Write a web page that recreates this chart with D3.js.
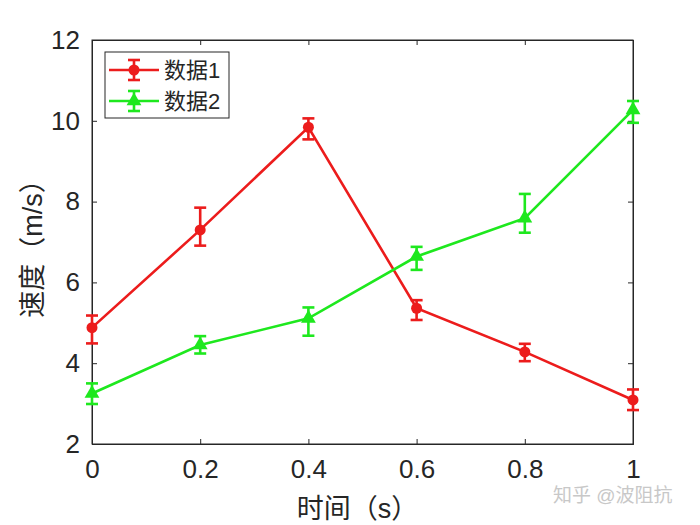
<!DOCTYPE html>
<html>
<head>
<meta charset="utf-8">
<script src="https://cdn.jsdelivr.net/npm/d3@7"></script>
<style>
  body { margin: 0; background: #fff; }
  text { font-family: Arial, "Liberation Sans", "Noto Sans CJK SC", sans-serif; }
</style>
</head>
<body>
<svg id="chart" width="700" height="525"></svg>
<script>
const times = [0, 0.2, 0.4, 0.6, 0.8, 1];

const speed1 = [4.88, 7.30, 9.84, 5.36, 4.28, 3.09];
const speed1Low = [4.49, 6.91, 9.54, 5.07, 4.05, 2.84];
const speed1High = [5.18, 7.85, 10.06, 5.56, 4.48, 3.35];

const speed2 = [3.25, 4.45, 5.11, 6.64, 7.59, 10.27];
const speed2Low = [2.99, 4.24, 4.68, 6.31, 7.23, 9.95];
const speed2High = [3.50, 4.67, 5.38, 6.88, 8.19, 10.49];

const xTicks = [0, 0.2, 0.4, 0.6, 0.8, 1];
const yTicks = [2, 4, 6, 8, 10, 12];

const series = [
    { name: '数据1', color: '#ec1c1c', marker: 'circle', values: speed1, low: speed1Low, high: speed1High },
    { name: '数据2', color: '#1ee81e', marker: 'triangle', values: speed2, low: speed2Low, high: speed2High }
];

const svg = d3.select('#chart');
const plot = { left: 92, right: 633, top: 40, bottom: 444 };

const x = d3.scaleLinear().domain([0, 1]).range([plot.left, plot.right]);
const y = d3.scaleLinear().domain([2, 12]).range([plot.bottom, plot.top]);

// box
svg.append('rect')
    .attr('x', plot.left).attr('y', plot.top)
    .attr('width', plot.right - plot.left).attr('height', plot.bottom - plot.top)
    .attr('fill', 'none').attr('stroke', '#262626').attr('stroke-width', 1);

// axes with inward ticks
const xAxis = svg.append('g')
    .attr('transform', `translate(0,${plot.bottom})`)
    .call(d3.axisBottom(x).tickValues(xTicks).tickSize(-5).tickPadding(16).tickFormat(d3.format('~g')));
const xTop = svg.append('g')
    .attr('transform', `translate(0,${plot.top})`)
    .call(d3.axisTop(x).tickValues(xTicks).tickSize(-5).tickFormat(''));
const yAxis = svg.append('g')
    .attr('transform', `translate(${plot.left},0)`)
    .call(d3.axisLeft(y).tickValues(yTicks).tickSize(-5).tickPadding(12));
const yRight = svg.append('g')
    .attr('transform', `translate(${plot.right},0)`)
    .call(d3.axisRight(y).tickValues(yTicks).tickSize(-5).tickFormat(''));

[xAxis, xTop, yAxis, yRight].forEach(g => {
    g.select('.domain').attr('stroke', '#262626');
    g.selectAll('.tick line').attr('stroke', '#262626');
    g.selectAll('.tick text').attr('fill', '#262626').style('font-size', '26px');
});

// axis titles
svg.append('text')
    .attr('x', (plot.left + plot.right) / 2 - 5)
    .attr('y', 518)
    .attr('text-anchor', 'middle')
    .attr('fill', '#262626')
    .style('font-size', '27px')
    .text('时间（s）');

svg.append('text')
    .attr('transform', `translate(42,${(plot.top + plot.bottom) / 2}) rotate(-90)`)
    .attr('text-anchor', 'middle')
    .attr('fill', '#262626')
    .style('font-size', '27px')
    .text('速度（m/s）');

const line = d3.line().x((d, i) => x(times[i])).y(d => y(d));
const capHalf = 6;

function drawMarker(g, type, color, cx, cy) {
    if (type === 'circle') {
        g.append('circle').attr('cx', cx).attr('cy', cy).attr('r', 5.5).attr('fill', color);
    } else {
        g.append('path')
            .attr('d', d3.symbol().type(d3.symbolTriangle).size(95)())
            .attr('transform', `translate(${cx},${cy})`)
            .attr('fill', color);
    }
}

series.forEach(s => {
    const g = svg.append('g');
    g.append('path')
        .datum(s.values)
        .attr('d', line)
        .attr('fill', 'none')
        .attr('stroke', s.color)
        .attr('stroke-width', 2.6);

    s.values.forEach((v, i) => {
        const cx = x(times[i]);
        const yl = y(s.low[i]);
        const yh = y(s.high[i]);
        g.append('line').attr('x1', cx).attr('x2', cx).attr('y1', yl).attr('y2', yh)
            .attr('stroke', s.color).attr('stroke-width', 2.6);
        [yl, yh].forEach(yy => {
            g.append('line').attr('x1', cx - capHalf).attr('x2', cx + capHalf).attr('y1', yy).attr('y2', yy)
                .attr('stroke', s.color).attr('stroke-width', 2.6);
        });
        drawMarker(g, s.marker, s.color, cx, y(v));
    });
});

// legend
const legend = svg.append('g').attr('transform', 'translate(105,52)');
legend.append('rect')
    .attr('width', 124).attr('height', 66)
    .attr('fill', '#fff').attr('stroke', '#262626').attr('stroke-width', 1);

series.forEach((s, i) => {
    const ly = 18 + i * 31;
    const row = legend.append('g');
    row.append('line').attr('x1', 4).attr('x2', 54).attr('y1', ly).attr('y2', ly)
        .attr('stroke', s.color).attr('stroke-width', 2.6);
    row.append('line').attr('x1', 29).attr('x2', 29).attr('y1', ly - 10).attr('y2', ly + 10)
        .attr('stroke', s.color).attr('stroke-width', 2.6);
    [ly - 10, ly + 10].forEach(yy => {
        row.append('line').attr('x1', 29 - capHalf).attr('x2', 29 + capHalf).attr('y1', yy).attr('y2', yy)
            .attr('stroke', s.color).attr('stroke-width', 2.6);
    });
    drawMarker(row, s.marker, s.color, 29, ly);
    row.append('text')
        .attr('x', 59).attr('y', ly + 8)
        .attr('fill', '#262626')
        .style('font-size', '22px')
        .text(s.name);
});

// watermark
svg.append('text')
    .attr('x', 553).attr('y', 502)
    .attr('fill', '#c8c8c8')
    .style('font-size', '19px')
    .text('知乎 @波阻抗');
</script>
</body>
</html>
